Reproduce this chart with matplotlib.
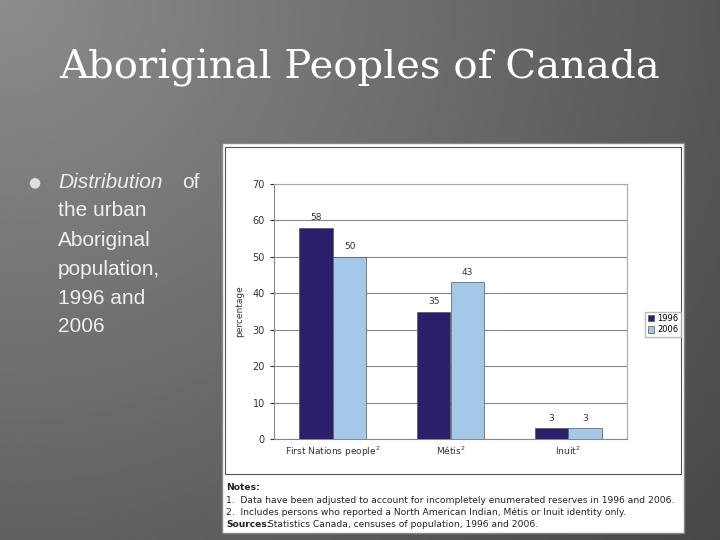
import numpy as np
import matplotlib.pyplot as plt
from matplotlib.patches import Rectangle

# Datos
categorias = ['First Nations people$^2$', 'Métis$^2$', 'Inuit$^2$']
valores_1996 = [58, 35, 3]
valores_2006 = [50, 43, 3]
series = ['1996', '2006']
colores = ['#2b1f6b', '#a3c8e8']

W, H = 720, 540
fig = plt.figure(figsize=(7.2, 5.4), dpi=100)

# Fondo degradado de la diapositiva (claro arriba a la izquierda)
bg = fig.add_axes([0, 0, 1, 1], zorder=-5)
yy, xx = np.mgrid[0:1:200j, 0:1:200j]   # fila 0 = parte superior
d = np.sqrt((xx * 1.0) ** 2 + (yy * 0.8) ** 2) / 1.28
grad = 0.55 - 0.27 * d
bg.imshow(grad, cmap='gray', vmin=0, vmax=1, extent=[0, 1, 0, 1], aspect='auto', origin='upper')
bg.set_xlim(0, 1)
bg.set_ylim(0, 1)
bg.axis('off')

def fx(px):
    return px / W

def fy(py):
    return 1 - py / H

# Panel blanco
bg.add_patch(Rectangle((fx(222), fy(533)), fx(684 - 222), (533 - 143) / H,
                       transform=fig.transFigure, facecolor='white',
                       edgecolor='#888888', lw=1, zorder=3))
bg.add_patch(Rectangle((fx(225), fy(474)), fx(681 - 225), (474 - 147) / H,
                       transform=fig.transFigure, facecolor='none',
                       edgecolor='#555555', lw=0.8, zorder=4))

# Título
fig.text(0.5, fy(68), 'Aboriginal Peoples of Canada', ha='center', va='center',
         fontsize=29, color='white', family='DejaVu Serif')

# Texto con viñeta
fig.text(fx(28), fy(182), '●', fontsize=10, color='#dddddd', va='center')
lineas = ['Distribution of', 'the urban', 'Aboriginal', 'population,', '1996 and', '2006']
for i, l in enumerate(lineas):
    y = fy(182 + i * 29)
    if i == 0:
        fig.text(fx(58), y, 'Distribution', fontsize=15, color='#eeeeee', va='center',
                 style='italic', family='Liberation Sans')
        fig.text(fx(182), y, 'of', fontsize=15, color='#eeeeee', va='center', family='Liberation Sans')
    else:
        fig.text(fx(58), y, l, fontsize=15, color='#eeeeee', va='center', family='Liberation Sans')

# Gráfico de barras
ax = fig.add_axes([fx(274), fy(439), fx(627 - 274), (439 - 184) / H])
x = np.arange(len(categorias))
w = 0.285
b1 = ax.bar(x - w / 2, valores_1996, w, color=colores[0], edgecolor='#555555', lw=0.5, label=series[0], zorder=3)
b2 = ax.bar(x + w / 2, valores_2006, w, color=colores[1], edgecolor='#555555', lw=0.5, label=series[1], zorder=3)
for barras in (b1, b2):
    for b in barras:
        ax.text(b.get_x() + b.get_width() / 2, b.get_height() + 1.5, f'{b.get_height():.0f}',
                ha='center', va='bottom', fontsize=6.5, color='#333333')
ax.set_xlim(-0.5, 2.5)
ax.set_ylim(0, 70)
ax.set_yticks(range(0, 71, 10))
ax.set_xticks(x)
ax.set_xticklabels(categorias, fontsize=6.5, color='#333333')
ax.tick_params(axis='y', labelsize=7, colors='#333333', length=3)
ax.tick_params(axis='x', length=0, pad=4)
ax.set_ylabel('percentage', fontsize=6.5, color='#333333', labelpad=6)
ax.grid(axis='y', color='#888888', lw=0.8, zorder=0)
for s in ['top', 'right']:
    ax.spines[s].set_color('#aaaaaa')
ax.spines['left'].set_color('#888888')
ax.spines['bottom'].set_color('#888888')
ax.legend(loc='center left', bbox_to_anchor=(1.04, 0.45), fontsize=6, frameon=True,
          edgecolor='#aaaaaa', fancybox=False, handlelength=0.8, handleheight=0.8,
          handletextpad=0.3, borderpad=0.3, labelspacing=0.3)

# Notas
notas = [('Notes:', 'bold'),
         ('1.  Data have been adjusted to account for incompletely enumerated reserves in 1996 and 2006.', 'normal'),
         ('2.  Includes persons who reported a North American Indian, Métis or Inuit identity only.', 'normal')]
for i, (t, wgt) in enumerate(notas):
    fig.text(fx(226), fy(488 + i * 12.3), t, fontsize=6.6, weight=wgt, color='#222222', va='center')
fig.text(fx(226), fy(488 + 3 * 12.3), 'Sources:', fontsize=6.6, weight='bold', color='#222222', va='center')
fig.text(fx(268), fy(488 + 3 * 12.3), 'Statistics Canada, censuses of population, 1996 and 2006.',
         fontsize=6.6, color='#222222', va='center')

fig.savefig('out.png', dpi=100)
